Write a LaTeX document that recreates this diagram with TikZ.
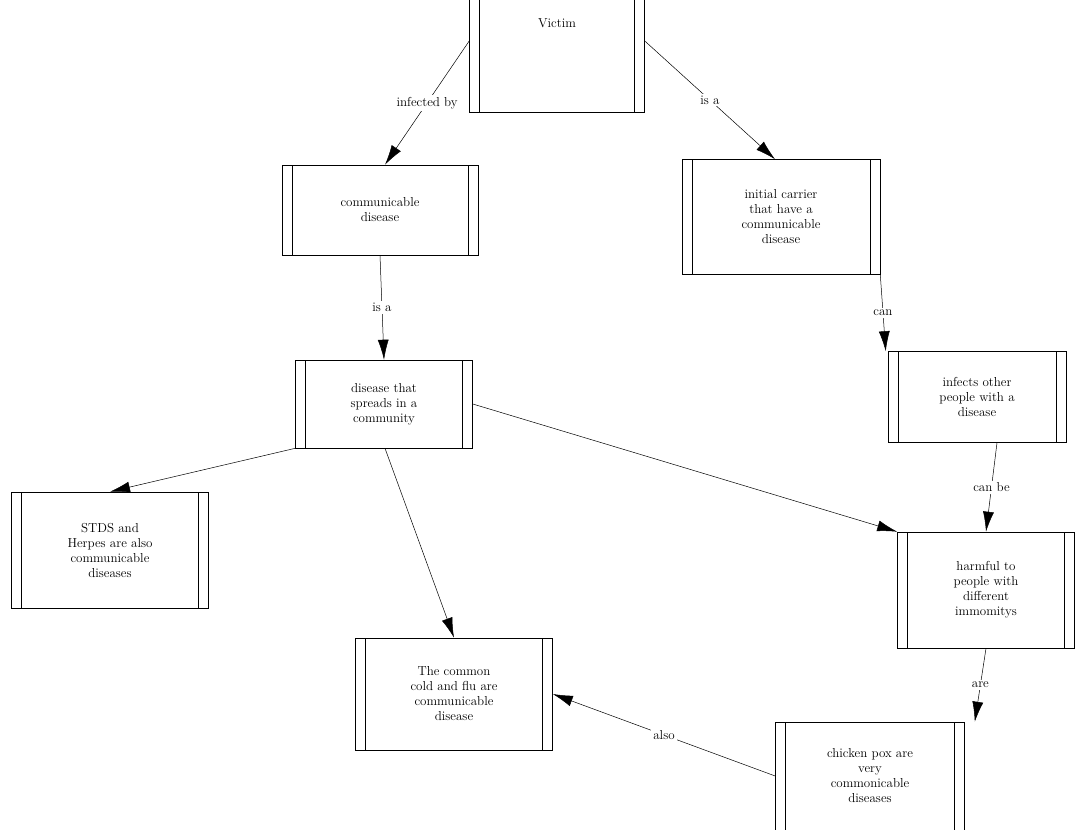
\documentclass[tikz,border=0pt]{standalone}
\usetikzlibrary{arrows.meta}
\begin{document}
\begin{tikzpicture}[x=1pt,y=-1pt,
  box/.style={draw,line width=0.6pt,align=center,font=\fontsize{13}{15}\selectfont,inner sep=2pt,
    path picture={\draw[line width=0.6pt] ([xshift=10pt]path picture bounding box.north west) -- ([xshift=10pt]path picture bounding box.south west);
    \draw[line width=0.6pt] ([xshift=-10pt]path picture bounding box.north east) -- ([xshift=-10pt]path picture bounding box.south east);}},
  lab/.style={fill=white,font=\fontsize{13}{15}\selectfont,inner sep=2pt},
  con/.style={line width=0.5pt,-{Latex[length=20pt,width=11pt]}}]
\useasboundingbox (0,0) rectangle (1079,830);
\node[box,minimum width=175pt,minimum height=142pt] (vic) at (557,41) {Victim\\[20pt]};
\node[box,minimum width=196pt,minimum height=90pt] (comm) at (380,210) {communicable\\disease};
\node[box,minimum width=198pt,minimum height=115pt] (car) at (781,217) {initial carrier\\that have a\\communicable\\disease};
\node[box,minimum width=177pt,minimum height=88pt] (dis) at (384,404) {disease that\\spreads in a\\community};
\node[box,minimum width=178pt,minimum height=91pt] (inf) at (977,397) {infects other\\people with a\\disease};
\node[box,minimum width=197pt,minimum height=116pt] (std) at (110,550) {STDS and\\Herpes are also\\communicable\\diseases};
\node[box,minimum width=177pt,minimum height=116pt] (harm) at (986,590) {harmful to\\people with\\different\\immomitys};
\node[box,minimum width=197pt,minimum height=112pt] (cold) at (454,694) {The common\\cold and flu are\\communicable\\disease};
\node[box,minimum width=189pt,minimum height=108pt] (pox) at (870,776) {chicken pox are\\very\\commonicable\\diseases};
\draw[con] (vic.west) -- node[lab]{infected by} ([xshift=5pt]comm.north);
\draw[con] (vic.east) -- node[lab]{is a} ([xshift=-6pt]car.north);
\draw[con] (comm.south) -- node[lab]{is a} (dis.north);
\draw[con] (car.south east) -- node[lab]{can} ([xshift=-2pt]inf.north west);
\draw[con] (dis.east) -- (harm.north west);
\draw[con] (dis.south west) -- (std.north);
\draw[con] ([xshift=1pt]dis.south) -- (cold.north);
\draw[con] ([xshift=20pt]inf.south) -- node[lab]{can be} (harm.north);
\draw[con] (harm.south) -- node[lab]{are} ([xshift=10pt]pox.north east);
\draw[con] (pox.west) -- node[lab]{also} (cold.east);
\end{tikzpicture}
\end{document}
